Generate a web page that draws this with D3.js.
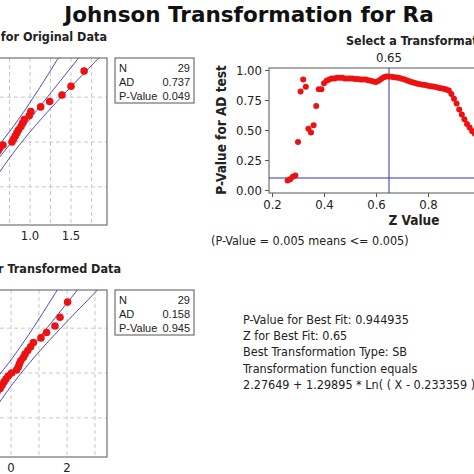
<!DOCTYPE html>
<html><head><meta charset="utf-8">
<script src="https://cdn.jsdelivr.net/npm/d3@7"></script>
<style>body{margin:0;background:#fff}text{font-family:"DejaVu Sans Condensed","DejaVu Sans",sans-serif}</style>
</head><body><svg id="c" width="474" height="474"></svg>
<script>
const origData=[0.20,0.28,0.32,0.36,0.40,0.44,0.47,0.50,0.52,0.55,0.58,0.61,0.63,0.67,0.78,0.80,0.82,0.84,0.86,0.89,0.91,0.93,0.99,1.01,1.13,1.24,1.39,1.50,1.66];
const transData=[-2.0,-1.6,-1.4,-1.2,-1.0,-0.9,-0.75,-0.6,-0.5,-0.39,-0.32,-0.25,-0.18,-0.1,0.02,0.2,0.26,0.3,0.35,0.44,0.5,0.6,0.7,0.8,1.07,1.27,1.57,1.75,2.02];
const origStats=[["N","29"],["AD","0.737"],["P-Value","0.049"]];
const transStats=[["N","29"],["AD","0.158"],["P-Value","0.945"]];
const zVals=[0.26,0.27,0.28,0.29,0.30,0.31,0.32,0.33,0.34,0.35,0.36,0.37,0.38,0.39,0.40,0.41,0.42,0.43,0.44,0.45,0.46,0.47,0.48,0.49,0.50,0.51,0.52,0.53,0.54,0.55,0.56,0.57,0.58,0.59,0.60,0.61,0.62,0.63,0.64,0.65,0.66,0.67,0.68,0.69,0.70,0.71,0.72,0.73,0.74,0.75,0.76,0.77,0.78,0.79,0.80,0.81,0.82,0.83,0.84,0.85,0.86,0.87,0.88,0.89,0.90,0.91,0.92,0.93,0.94,0.95,0.96,0.97,0.98,0.99];
const pVals=[0.08,0.09,0.11,0.12,0.40,0.82,0.92,0.86,0.51,0.48,0.54,0.70,0.84,0.84,0.89,0.91,0.92,0.93,0.93,0.935,0.935,0.935,0.93,0.93,0.93,0.93,0.925,0.925,0.92,0.92,0.92,0.915,0.91,0.905,0.90,0.91,0.925,0.94,0.945,0.945,0.944,0.94,0.937,0.933,0.928,0.92,0.912,0.905,0.898,0.892,0.886,0.882,0.878,0.874,0.869,0.865,0.862,0.858,0.853,0.848,0.843,0.838,0.83,0.80,0.76,0.72,0.67,0.63,0.59,0.55,0.52,0.49,0.47,0.45];
const zTicks=[0.2,0.4,0.6,0.8];
const pTicks=[0,0.25,0.5,0.75,1];
const bestZ=0.65, alphaLine=0.10;
const infoLines=["P-Value for Best Fit: 0.944935","Z for Best Fit: 0.65","Best Transformation Type: SB","Transformation function equals","2.27649 + 1.29895 * Ln( ( X - 0.233359 ) / ( 1.89 - X ) )"];

const svg=d3.select("#c");
const blue="#3333aa", red="#ee1111", ink="#222";
svg.append("text").attr("x",249).attr("y",22).attr("text-anchor","middle").style("font-family","'DejaVu Sans'").attr("font-weight","bold").attr("font-size",21.5).attr("fill","#111").text("Johnson Transformation for Ra");

function qnorm(p){
 const a=[-39.6968302866538,220.946098424521,-275.928510446969,138.357751867269,-30.6647980661472,2.50662827745924],
 b=[-54.4760987982241,161.585836858041,-155.698979859887,66.8013118877197,-13.2806815528857],
 c=[-0.00778489400243029,-0.322396458041136,-2.40075827716184,-2.54973253934373,4.37466414146497,2.93816398269878],
 d=[0.00778469570904146,0.32246712907004,2.445134137143,3.75440866190742];
 let q,r; if(p<0.02425){q=Math.sqrt(-2*Math.log(p));return (((((c[0]*q+c[1])*q+c[2])*q+c[3])*q+c[4])*q+c[5])/((((d[0]*q+d[1])*q+d[2])*q+d[3])*q+1);}
 if(p>1-0.02425){q=Math.sqrt(-2*Math.log(1-p));return -(((((c[0]*q+c[1])*q+c[2])*q+c[3])*q+c[4])*q+c[5])/((((d[0]*q+d[1])*q+d[2])*q+d[3])*q+1);}
 q=p-0.5;r=q*q;return (((((a[0]*r+a[1])*r+a[2])*r+a[3])*r+a[4])*r+a[5])*q/(((((b[0]*r+b[1])*r+b[2])*r+b[3])*r+b[4])*r+1);
}

function probPlot(o){
 const g=svg.append("g");
 const x=d3.scaleLinear().domain(o.xd).range(o.xr);
 const y=d3.scaleLinear().domain([0,1]).range([o.z0,o.z0-35]);
 const n=o.data.length;
 const clip="cl"+o.id;
 svg.append("clipPath").attr("id",clip).append("rect").attr("x",o.l).attr("y",o.t).attr("width",o.r-o.l).attr("height",o.b-o.t);
 const pg=g.append("g").attr("clip-path",`url(#${clip})`);
 o.gx.forEach(v=>pg.append("line").attr("x1",x(v)).attr("x2",x(v)).attr("y1",o.t).attr("y2",o.b).attr("stroke","#c8c8c8").attr("stroke-dasharray","4,3"));
 [0.1,0.5,0.9].map(qnorm).forEach(v=>pg.append("line").attr("x1",o.l).attr("x2",o.r).attr("y1",y(v)).attr("y2",y(v)).attr("stroke","#c8c8c8").attr("stroke-dasharray","4,3"));
 const zs=d3.range(-4,4.01,0.05);
 const w=z=>o.sd*1.96*Math.sqrt(1/n+z*z/(2*(n-1)));
 [0,-1,1].forEach(s=>{
  pg.append("path").attr("fill","none").attr("stroke",blue).attr("stroke-width",0.9)
   .attr("d",d3.line().x(z=>x(o.mu+o.sd*z+s*w(z))).y(z=>y(z))(zs));
 });
 pg.selectAll(null).data(o.data).join("circle").attr("cx",d=>x(d)).attr("cy",(d,i)=>y(qnorm((i+1-0.375)/(n+0.25)))).attr("r",3.8).attr("fill",red);
 g.append("rect").attr("x",o.l-5).attr("y",o.t).attr("width",o.r-o.l+5).attr("height",o.b-o.t).attr("fill","none").attr("stroke","#555");
 g.selectAll(null).data(o.ticks).join("text").attr("x",d=>x(d)).attr("y",o.b+15).attr("text-anchor","middle").attr("font-size",13).attr("fill",ink).text(o.fmt);
 g.append("text").attr("x",o.titleX).attr("y",o.t-17).attr("text-anchor","end").attr("font-weight","bold").attr("font-size",12.5).attr("fill",ink).text(o.title);
 const lg=g.append("g");
 lg.append("rect").attr("x",115).attr("y",o.t).attr("width",79).attr("height",45).attr("fill","#fff").attr("stroke","#555");
 o.stats.forEach((s,i)=>{
  lg.append("text").attr("x",119).attr("y",o.t+13.5+i*14).style("font-family","'Liberation Sans'").attr("font-size",11).attr("fill",ink).text(s[0]);
  lg.append("text").attr("x",190).attr("y",o.t+13.5+i*14).style("font-family","'Liberation Sans'").attr("font-size",11).attr("text-anchor","end").attr("fill",ink).text(s[1]);
 });
}
probPlot({id:1,data:origData,xd:[1,1.5],xr:[30,71],l:0,r:107,t:58,b:225,z0:142,gx:[0.5,0.75,1,1.25,1.5,1.75],ticks:[1.0,1.5],fmt:d3.format(".1f"),mu:0.776,sd:0.34,title:"Probability Plot for Original Data",titleX:107,stats:origStats});
probPlot({id:2,data:transData,xd:[0,2],xr:[11,67],l:0,r:107,t:290,b:457,z0:373,gx:[-1,0,1,2,3],ticks:[0,2],fmt:d3.format("d"),mu:0,sd:1,title:"Probability Plot for Transformed Data",titleX:121,stats:transStats});

const R={l:269,r:480,t:68,b:193};
const xs=d3.scaleLinear().domain([0.2,0.8]).range([272,428]);
const ys=d3.scaleLinear().domain([0,1]).range([190,70]);
const rg=svg.append("g");
rg.append("clipPath").attr("id","rc").append("rect").attr("x",R.l).attr("y",R.t).attr("width",R.r-R.l).attr("height",R.b-R.t);
const rp=rg.append("g").attr("clip-path","url(#rc)");
rp.append("line").attr("x1",R.l).attr("x2",R.r).attr("y1",ys(alphaLine)).attr("y2",ys(alphaLine)).attr("stroke",blue);
rp.append("line").attr("x1",xs(bestZ)).attr("x2",xs(bestZ)).attr("y1",R.t).attr("y2",R.b).attr("stroke",blue);
rp.selectAll(null).data(zVals).join("circle").attr("cx",d=>xs(d)).attr("cy",(d,i)=>ys(pVals[i])).attr("r",3).attr("fill",red);
rg.append("rect").attr("x",R.l).attr("y",R.t).attr("width",R.r-R.l).attr("height",R.b-R.t).attr("fill","none").attr("stroke","#555");
rg.append("g").attr("transform",`translate(0,${R.b})`).call(d3.axisBottom(xs).tickValues(zTicks).tickSize(4).tickFormat(d3.format(".1f")))
 .call(a=>{a.select(".domain").remove();a.selectAll("text").attr("font-size",13).attr("fill",ink);a.selectAll("line").attr("stroke","#555");});
rg.append("g").attr("transform",`translate(${R.l},0)`).call(d3.axisLeft(ys).tickValues(pTicks).tickSize(4).tickFormat(d3.format(".2f")))
 .call(a=>{a.select(".domain").remove();a.selectAll("text").attr("font-size",13).attr("fill",ink);a.selectAll("line").attr("stroke","#555");});
rg.append("text").attr("x",xs(bestZ)).attr("y",R.t-6).attr("text-anchor","middle").attr("font-size",13).attr("fill",ink).text(d3.format(".2f")(bestZ));
rg.append("text").attr("x",346).attr("y",45).attr("font-weight","bold").attr("font-size",12.5).attr("fill",ink).text("Select a Transformation");
rg.append("text").attr("transform","translate(226,130) rotate(-90)").attr("text-anchor","middle").attr("font-weight","bold").attr("font-size",13.5).attr("fill",ink).text("P-Value for AD test");
rg.append("text").attr("x",414).attr("y",225).attr("text-anchor","middle").attr("font-weight","bold").attr("font-size",13.5).attr("fill",ink).text("Z Value");
rg.append("text").attr("x",211).attr("y",245).attr("font-size",12.5).attr("fill",ink).text("(P-Value = 0.005 means <= 0.005)");
svg.append("g").selectAll("text").data(infoLines).join("text").attr("x",243).attr("y",(d,i)=>324+i*16.2).attr("font-size",12.5).attr("fill",ink).text(d=>d);
</script>
</body></html>
